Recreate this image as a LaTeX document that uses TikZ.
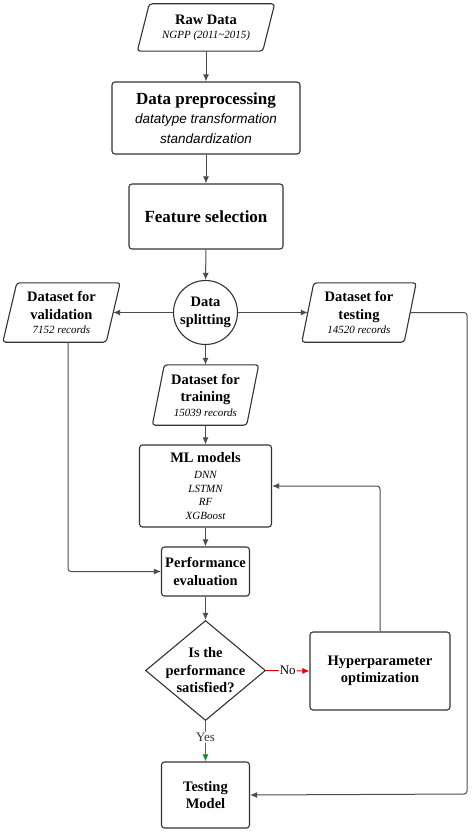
\documentclass[tikz,border=0pt]{standalone}
\usepackage{fontspec}
\setmainfont{Liberation Serif}
\newfontfamily\sansit{Liberation Sans}
\usetikzlibrary{shapes.geometric,arrows.meta}
\definecolor{edge}{HTML}{333333}
\definecolor{conn}{HTML}{4D4D4D}
\definecolor{nored}{HTML}{E00000}
\definecolor{yesgreen}{HTML}{1A8A1A}
\newcommand\bfx{\fontsize{14.5}{17.5}\selectfont\bfseries}
\newcommand\bfbig{\fontsize{17}{19.5}\selectfont\bfseries}
\newcommand\itx{\fontsize{11}{17.5}\selectfont\itshape}
\newcommand\sitx{\fontsize{13.5}{19.5}\selectfont\sansit\itshape}
\newcommand\drawpara[2]{% node name, slant
  \draw[boxline] ([xshift=-#2]#1.south west) -- ([xshift=-#2]#1.south east) -- ([xshift=#2]#1.north east) -- ([xshift=#2]#1.north west) -- cycle;}
\begin{document}
\begin{tikzpicture}[x=1pt,y=-1pt,
  basefont/.style={font=\fontsize{14.5}{17.5}\selectfont},
  boxline/.style={draw=edge, line width=1.1pt, rounded corners=3pt},
  rbox/.style={boxline, rectangle, align=center, inner sep=0pt, basefont},
  paratext/.style={rectangle, align=center, inner sep=0pt, basefont},
  conn/.style={draw=conn, line width=1pt, -{Latex[length=7pt,width=6pt]}, rounded corners=3pt},
  lbl/.style={fill=white, inner sep=1pt, font=\fontsize{13}{15}\selectfont}
]
\useasboundingbox (0,0) rectangle (474,832);
\fill[white] (0,0) rectangle (474,832);

% Raw data
\node[paratext, minimum width=125, minimum height=47] (raw) at (206,27.5)
  {\bfx Raw Data\\[-3.5pt] \itx NGPP (2011\textasciitilde 2015)};
\drawpara{raw}{6}

% preprocessing
\node[rbox, font=\fontsize{14.5}{19.5}\selectfont, minimum width=188, minimum height=72] (pre) at (206,118)
  {\bfbig Data preprocessing\\ \sitx datatype transformation\\ \sitx standardization};

% feature selection
\node[rbox, minimum width=154, minimum height=65] (feat) at (206,216.5)
  {\bfbig Feature selection};

% splitting
\node[circle, draw=edge, line width=1.1pt, minimum size=64, inner sep=0pt, align=center, basefont] (split) at (205.5,312.5)
  {\bfx Data\\ \bfx splitting};

% validation
\node[paratext, minimum width=103, minimum height=59] (val) at (61.5,312.5)
  {\bfx Dataset for\\ \bfx validation\\[-3pt] \itx 7152 records};
\drawpara{val}{7}

% testing
\node[paratext, minimum width=102, minimum height=59] (test) at (359,312.5)
  {\bfx Dataset for\\ \bfx testing\\[-3pt] \itx 14520 records};
\drawpara{test}{6}

% training
\node[paratext, minimum width=94, minimum height=60] (train) at (205.5,395)
  {\bfx Dataset for\\ \bfx training\\[-3pt] \itx 15039 records};
\drawpara{train}{6}

% ML models
\node[rbox, minimum width=132, minimum height=82] (ml) at (205.5,486)
  {\bfx ML models\\[-1.5pt] \itx DNN\\[-4pt] \itx LSTMN\\[-4pt] \itx RF\\[-4pt] \itx XGBoost};

% performance evaluation
\node[rbox, minimum width=88, minimum height=49] (perf) at (205.5,571.5)
  {\bfx Performance\\ \bfx evaluation};

% decision
\node[diamond, draw=edge, line width=1.1pt, minimum width=120, minimum height=100, inner sep=0pt] (dec) at (205.5,670.5) {};
\node[align=center, inner sep=0pt, basefont] (dectext) at (dec.center)
  {\bfx Is the\\ \bfx performance\\ \bfx satisfied?};

% hyperparameter
\node[rbox, minimum width=140, minimum height=78] (hyp) at (380,671)
  {\bfx Hyperparameter\\ \bfx optimization};

% testing model
\node[rbox, minimum width=88, minimum height=66] (tm) at (205.5,795)
  {\bfx Testing\\ \bfx Model};

\coordinate (rc) at (467,794);

% connectors
\draw[conn] (raw) -- (pre);
\draw[conn] (pre) -- (feat);
\draw[conn] (feat) -- (split);
\draw[conn] (split) -- (val.east);
\draw[conn] (split) -- (test.west);
\draw[conn] (split) -- (train);
\draw[conn] (train) -- (ml);
\draw[conn] (ml) -- (perf);
\draw[conn] (perf) -- (dec);
\draw[conn] ([xshift=6.5pt]val.south) |- (perf.west);
\draw[conn] (hyp.north) |- (ml.east);
\draw[conn] (test.east) -| (rc) -- (tm.east);
\draw[conn, draw=nored, -{Latex[length=7pt,width=6pt,fill=nored]}] (dec.east) -- node[lbl]{No} (hyp.west);
\draw[conn, draw=yesgreen, -{Latex[length=7pt,width=6pt,fill=yesgreen]}] (dec.south) -- node[lbl, text=edge, pos=0.4]{Yes} (tm.north);
\end{tikzpicture}
\end{document}
